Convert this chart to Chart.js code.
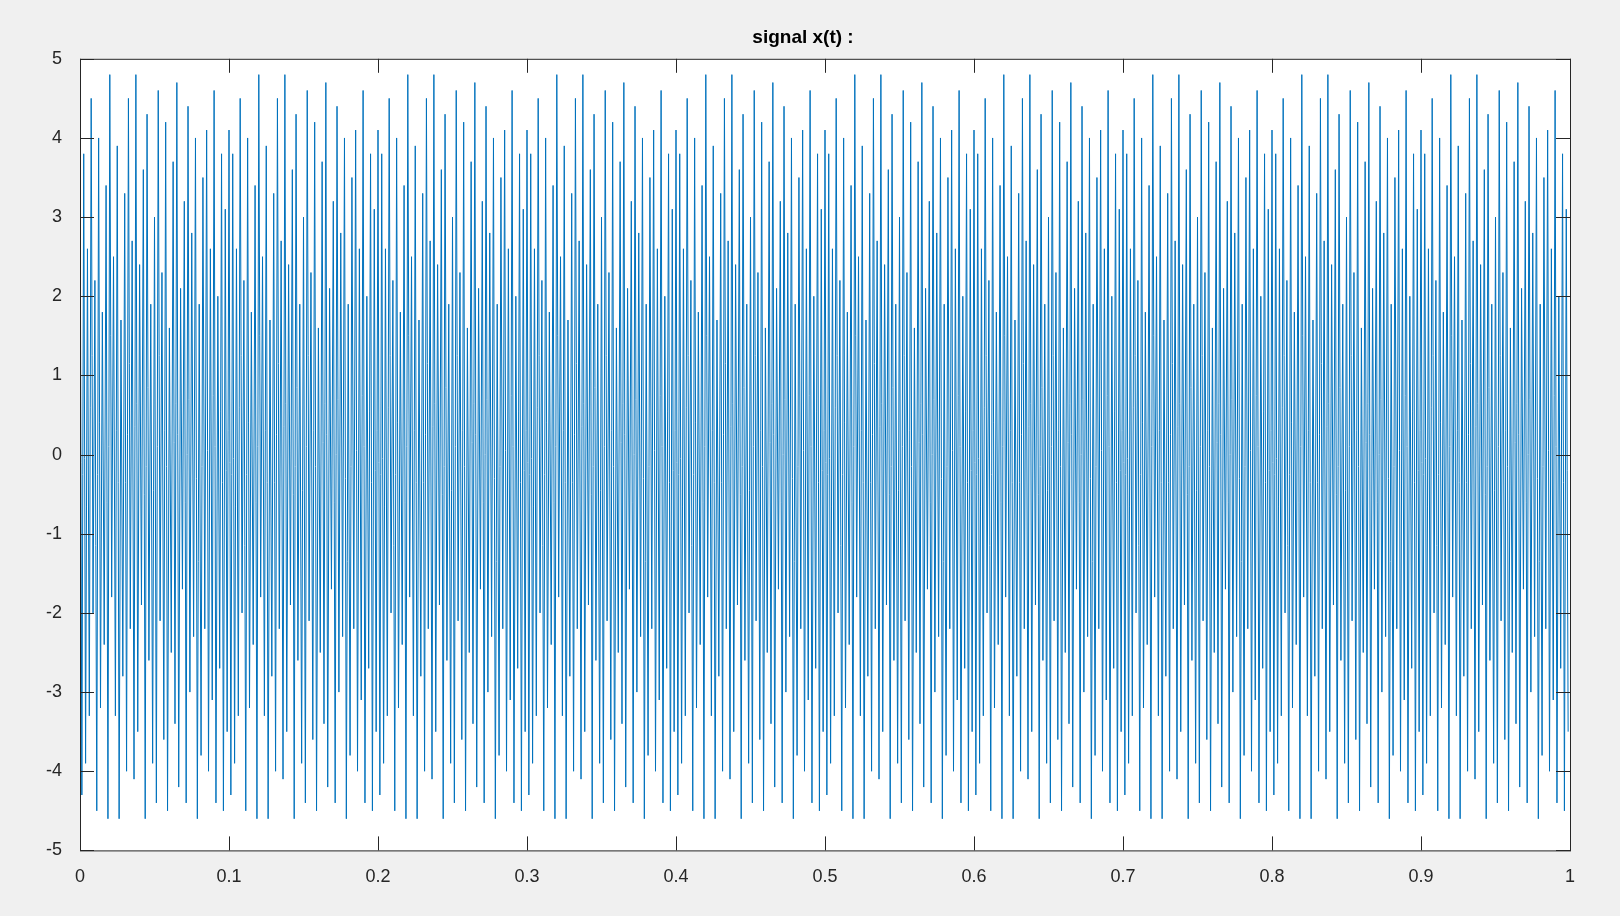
<!DOCTYPE html>
<html>
<head>
<meta charset="utf-8">
<script src="https://cdn.jsdelivr.net/npm/chart.js@4"></script>
<style>
  html, body { margin: 0; padding: 0; background: #f0f0f0; }
  #wrap { width: 1620px; height: 916px; }
</style>
</head>
<body>
<div id="wrap"><canvas id="sig"></canvas></div>
<script>
// one 0.1 s stretch of the signal (peak / trough pairs)
const segmentValues = [
  4.1, -4.3, 3.8, -3.9, 2.6, -3.3, 4.5, -2.0, 2.2, -4.5,
  4.0, -3.2, 1.8, -2.4, 3.4, -4.6, 4.8, -1.8, 2.5, -3.3,
  3.9, -4.6, 1.7, -2.8, 3.3, -4.0, 4.5, -2.2, 2.7, -4.1,
  4.8, -3.5, 2.4, -1.9, 3.6, -4.6, 4.3, -2.6, 1.9, -3.9,
  3.0, -4.4, 4.6, -2.1, 2.3, -3.6, 4.2, -4.5, 1.6, -2.5,
  3.7, -3.4, 4.7, -4.2, 2.1, -1.7, 3.2, -4.4, 4.4, -3.0,
  2.8, -2.3, 4.0, -4.6, 1.9, -3.8, 3.5, -2.2, 4.1, -4.0,
  2.6, -3.1, 4.6, -4.4, 2.0, -2.7, 3.8, -4.5, 3.1, -3.5
];
const segmentCount = 10;
const xTicks = [0, 0.1, 0.2, 0.3, 0.4, 0.5, 0.6, 0.7, 0.8, 0.9, 1];
const yTicks = [-5, -4, -3, -2, -1, 0, 1, 2, 3, 4, 5];
const titleText = "signal x(t) :";

// the signal repeats, so lay the stretch end to end over 0..1 s
const points = [];
const total = segmentValues.length * segmentCount;
for (let k = 0; k < segmentCount; k++) {
  segmentValues.forEach((v, i) => {
    const n = k * segmentValues.length + i;
    points.push({ x: n / total, y: v });
  });
}

// white plot area behind the line
const bgPlugin = {
  id: "bg",
  beforeDatasetsDraw(chart) {
    const { ctx, chartArea: a } = chart;
    ctx.save();
    ctx.fillStyle = "#fff";
    ctx.fillRect(a.left, a.top, a.right - a.left, a.bottom - a.top);
    ctx.restore();
  }
};

// matlab style box and inward ticks
const boxPlugin = {
  id: "box",
  afterDraw(chart) {
    const { ctx, chartArea: a, scales } = chart;
    ctx.save();
    ctx.strokeStyle = "#262626";
    ctx.lineWidth = 1;
    ctx.strokeRect(a.left + 0.5, a.top + 0.5, a.right - a.left, a.bottom - a.top);
    ctx.beginPath();
    xTicks.forEach(t => {
      const px = Math.round(scales.x.getPixelForValue(t)) + 0.5;
      ctx.moveTo(px, a.bottom); ctx.lineTo(px, a.bottom - 14);
      ctx.moveTo(px, a.top); ctx.lineTo(px, a.top + 14);
    });
    yTicks.forEach(t => {
      const py = Math.round(scales.y.getPixelForValue(t)) + 0.5;
      ctx.moveTo(a.left, py); ctx.lineTo(a.left + 14, py);
      ctx.moveTo(a.right, py); ctx.lineTo(a.right - 14, py);
    });
    ctx.stroke();
    ctx.restore();
  }
};

const tickFont = { family: "Liberation Sans, Arial", size: 18 };

new Chart(document.getElementById("sig"), {
  type: "line",
  data: {
    datasets: [{
      data: points,
      borderColor: "#0072BD",
      borderWidth: 1,
      pointRadius: 0,
      tension: 0
    }]
  },
  options: {
    responsive: true,
    maintainAspectRatio: false,
    animation: false,
    layout: { padding: { left: 36, right: 50, top: 18, bottom: 20 } },
    plugins: {
      legend: { display: false },
      tooltip: { enabled: false },
      title: {
        display: true,
        text: titleText,
        color: "#000",
        font: { family: "Liberation Sans, Arial", size: 19, weight: "bold" },
        padding: { top: 8, bottom: 10 }
      }
    },
    scales: {
      x: {
        type: "linear",
        min: 0, max: 1,
        afterBuildTicks: s => { s.ticks = xTicks.map(v => ({ value: v })); },
        grid: { display: false },
        border: { display: false },
        ticks: { color: "#262626", font: tickFont, padding: 8, maxRotation: 0, callback: v => String(v) }
      },
      y: {
        min: -5, max: 5,
        afterBuildTicks: s => { s.ticks = yTicks.map(v => ({ value: v })); },
        grid: { display: false },
        border: { display: false },
        ticks: { color: "#262626", font: tickFont, padding: 10, callback: v => String(v) }
      }
    }
  },
  plugins: [bgPlugin, boxPlugin]
});
</script>
</body>
</html>
